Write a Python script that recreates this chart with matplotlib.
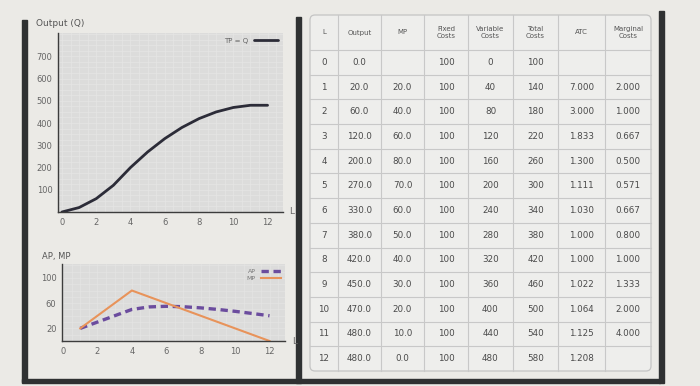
import numpy as np
import matplotlib
matplotlib.use("Agg")
import matplotlib.pyplot as plt
from matplotlib.patches import Rectangle, FancyBboxPatch

# --- data ---
labor = [0, 1, 2, 3, 4, 5, 6, 7, 8, 9, 10, 11, 12]
output = [0.0, 20.0, 60.0, 120.0, 200.0, 270.0, 330.0, 380.0, 420.0, 450.0, 470.0, 480.0, 480.0]
mp = [None, 20.0, 40.0, 60.0, 80.0, 70.0, 60.0, 50.0, 40.0, 30.0, 20.0, 10.0, 0.0]
ap = [20.0, 30.0, 40.0, 50.0, 54.0, 55.0, 54.3, 52.5, 50.0, 47.0, 43.6, 40.0]
fixed_costs = [100] * 13
variable_costs = [0, 40, 80, 120, 160, 200, 240, 280, 320, 360, 400, 440, 480]
total_costs = [100, 140, 180, 220, 260, 300, 340, 380, 420, 460, 500, 540, 580]
atc = [None, 7.000, 3.000, 1.833, 1.300, 1.111, 1.030, 1.000, 1.000, 1.022, 1.064, 1.125, 1.208]
mc = [None, 2.000, 1.000, 0.667, 0.500, 0.571, 0.667, 0.800, 1.000, 1.333, 2.000, 4.000, None]
headers = ["L", "Output", "MP", "Fixed\nCosts", "Variable\nCosts", "Total\nCosts", "ATC", "Marginal\nCosts"]

BG = "#ebeae6"
PLOT_BG = "#dcdcdb"
TXT = "#4a4a4a"
W, H = 700, 386

fig = plt.figure(figsize=(7, 3.86), dpi=100, facecolor=BG)

# pixel-space overlay for bezels and the table
bg = fig.add_axes([0, 0, 1, 1])
bg.set_xlim(0, W)
bg.set_ylim(H, 0)
bg.axis("off")
bg.set_zorder(0)

for x0, y0, w, h in [(22, 20, 5, 362), (22, 379, 638, 4), (296, 17, 5, 366), (659, 11, 5, 372)]:
    bg.add_patch(Rectangle((x0, y0), w, h, color="#2f3132", zorder=1))


def px_axes(left, top, right, bottom):
    return fig.add_axes([left / W, 1 - bottom / H, (right - left) / W, (bottom - top) / H])


def style_axes(ax):
    ax.set_facecolor(PLOT_BG)
    for s in ["top", "right"]:
        ax.spines[s].set_visible(False)
    for s in ["left", "bottom"]:
        ax.spines[s].set_color("#3c3c3c")
        ax.spines[s].set_linewidth(1.0)
    ax.tick_params(length=0, labelsize=6, colors="#666666", pad=4)
    ax.set_axisbelow(True)


# --- top chart: total product ---
ax1 = px_axes(58, 33, 283, 212)
style_axes(ax1)
ax1.plot(labor, output, color="#2c2c38", lw=2.0, label="TP = Q",
         solid_capstyle="round", solid_joinstyle="round")
ax1.set_xlim(-0.23, 12.9)
ax1.set_ylim(0, 805)
ax1.set_xticks(range(0, 13, 2))
ax1.set_yticks(range(100, 701, 100))
ax1.set_xticks(np.arange(0, 13, 0.5), minor=True)
ax1.set_yticks(range(0, 801, 25), minor=True)
ax1.tick_params(which="minor", length=0)
ax1.grid(which="both", color="#e6e6e5", lw=0.5)
ax1.legend(loc="upper right", frameon=False, markerfirst=False, fontsize=5,
           handlelength=3.5, labelcolor="#666666", borderaxespad=0.3)
fig.text(36 / W, 1 - 23 / H, "Output (Q)", fontsize=6.5, color="#555555", va="center")
fig.text(289 / W, 1 - 212 / H, "L", fontsize=6.5, color="#666666", va="center")

# --- bottom chart: AP and MP ---
ax2 = px_axes(62, 264, 285, 341)
style_axes(ax2)
ax2.plot(labor[1:], ap, color="#6b4c9e", lw=2.4, ls=(0, (2.2, 1.4)), label="AP")
ax2.plot(labor[1:], mp[1:], color="#e8935a", lw=1.5, label="MP")
ax2.set_xlim(-0.06, 12.9)
ax2.set_ylim(0, 122)
ax2.set_xticks(range(0, 13, 2))
ax2.set_yticks([20, 60, 100])
ax2.set_xticks(np.arange(0, 13, 0.5), minor=True)
ax2.set_yticks(range(0, 121, 10), minor=True)
ax2.tick_params(which="minor", length=0)
ax2.grid(which="both", color="#e4e4e3", lw=0.5)
ax2.legend(loc="upper right", frameon=False, markerfirst=False, fontsize=4.5,
           handlelength=3.2, labelcolor="#777777", borderaxespad=0.3, labelspacing=0.3)
fig.text(42 / W, 1 - 256 / H, "AP, MP", fontsize=6, color="#555555", va="center")
fig.text(292 / W, 1 - 342 / H, "L", fontsize=6.5, color="#666666", va="center")

# --- table ---
col_edges = [310, 338, 381, 424, 468, 513, 558, 605, 651]
tab_top, head_bot, tab_bot = 15, 50, 371
n_rows = len(labor)
row_h = (tab_bot - head_bot) / n_rows

bg.add_patch(FancyBboxPatch((col_edges[0], tab_top), col_edges[-1] - col_edges[0], tab_bot - tab_top,
                            boxstyle="round,pad=0,rounding_size=5", fc="#eeeeec", ec="#c4c4c4",
                            lw=0.9, zorder=2))
for x in col_edges[1:-1]:
    bg.plot([x, x], [tab_top, tab_bot], color="#c8c8c8", lw=0.8, zorder=3)
for i in range(n_rows):
    y = head_bot + i * row_h
    bg.plot([col_edges[0], col_edges[-1]], [y, y], color="#c8c8c8", lw=0.8, zorder=3)

centers = [(a + b) / 2 for a, b in zip(col_edges[:-1], col_edges[1:])]
for cx, htxt in zip(centers, headers):
    bg.text(cx, (tab_top + head_bot) / 2, htxt, ha="center", va="center", fontsize=5,
            color="#555555", linespacing=1.3, zorder=4)


def fmt(v, spec):
    return "" if v is None else format(v, spec)


for i in range(n_rows):
    cells = [str(labor[i]), fmt(output[i], ".1f"), fmt(mp[i], ".1f"), str(fixed_costs[i]),
             str(variable_costs[i]), str(total_costs[i]), fmt(atc[i], ".3f"), fmt(mc[i], ".3f")]
    cy = head_bot + (i + 0.5) * row_h
    for cx, txt in zip(centers, cells):
        bg.text(cx, cy, txt, ha="center", va="center", fontsize=6.3, color=TXT, zorder=4)

fig.savefig("out.png", dpi=100, facecolor=BG)
